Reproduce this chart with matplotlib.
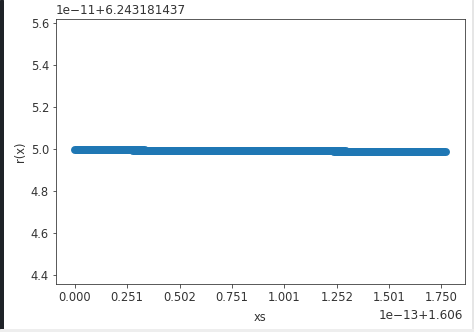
import matplotlib
matplotlib.use("Agg")
import matplotlib.pyplot as plt
from matplotlib.patches import Rectangle

# values shown relative to the offsets (x: 1e-13 + 1.606, y: 1e-11 + 6.243181437)
seg_start = [0.0, 0.28, 1.24]
seg_end = [0.335, 1.295, 1.775]
seg_level = [4.996, 4.990, 4.983]

x_ticks = [0.0, 0.251, 0.502, 0.751, 1.001, 1.252, 1.501, 1.750]
x_labels = ["0.000", "0.251", "0.502", "0.751", "1.001", "1.252", "1.501", "1.750"]
y_ticks = [4.4, 4.6, 4.8, 5.0, 5.2, 5.4, 5.6]
y_labels = ["4.4", "4.6", "4.8", "5.0", "5.2", "5.4", "5.6"]

plt.rcParams["font.size"] = 11.5
plt.rcParams["text.color"] = "#333333"
plt.rcParams["xtick.color"] = "#333333"
plt.rcParams["ytick.color"] = "#333333"
plt.rcParams["axes.edgecolor"] = "#333333"

fig = plt.figure(figsize=(474 / 72, 332 / 72), dpi=72)
ax = fig.add_axes([56 / 474, 48 / 332, 409 / 474, 265 / 332])

# lower segments first, earlier ones drawn on top
for s, e, y in reversed(list(zip(seg_start, seg_end, seg_level))):
    ax.plot([s, e], [y, y], color="#1f77b4", lw=8, solid_capstyle="round")

ax.set_xlim(-0.0887, 1.8637)
ax.set_ylim(4.356, 5.619)
ax.set_xticks(x_ticks)
ax.set_xticklabels(x_labels)
ax.set_yticks(y_ticks)
ax.set_yticklabels(y_labels)
ax.set_xlabel("xs", labelpad=7, color="#333333")
ax.set_ylabel("r(x)", color="#333333")

# offset texts as in the original notebook output
ax.text(0.0, 1.008, "1e\u221211+6.243181437", transform=ax.transAxes,
        ha="left", va="bottom", fontsize=12)
ax.text(0.995, -0.094, "1e\u221213+1.606", transform=ax.transAxes,
        ha="right", va="top", fontsize=12)

# screenshot edges
fig.patches.append(Rectangle((0, 0), 3 / 474, 1, transform=fig.transFigure,
                             color="#1e2227", zorder=-1))
fig.patches.append(Rectangle((472 / 474, 0), 2 / 474, 1, transform=fig.transFigure,
                             color="#e6e6e6", zorder=-1))
fig.patches.append(Rectangle((0, 0), 1, 3 / 332, transform=fig.transFigure,
                             color="#eeeeee", zorder=-1))

fig.savefig("out.png", dpi=72)
